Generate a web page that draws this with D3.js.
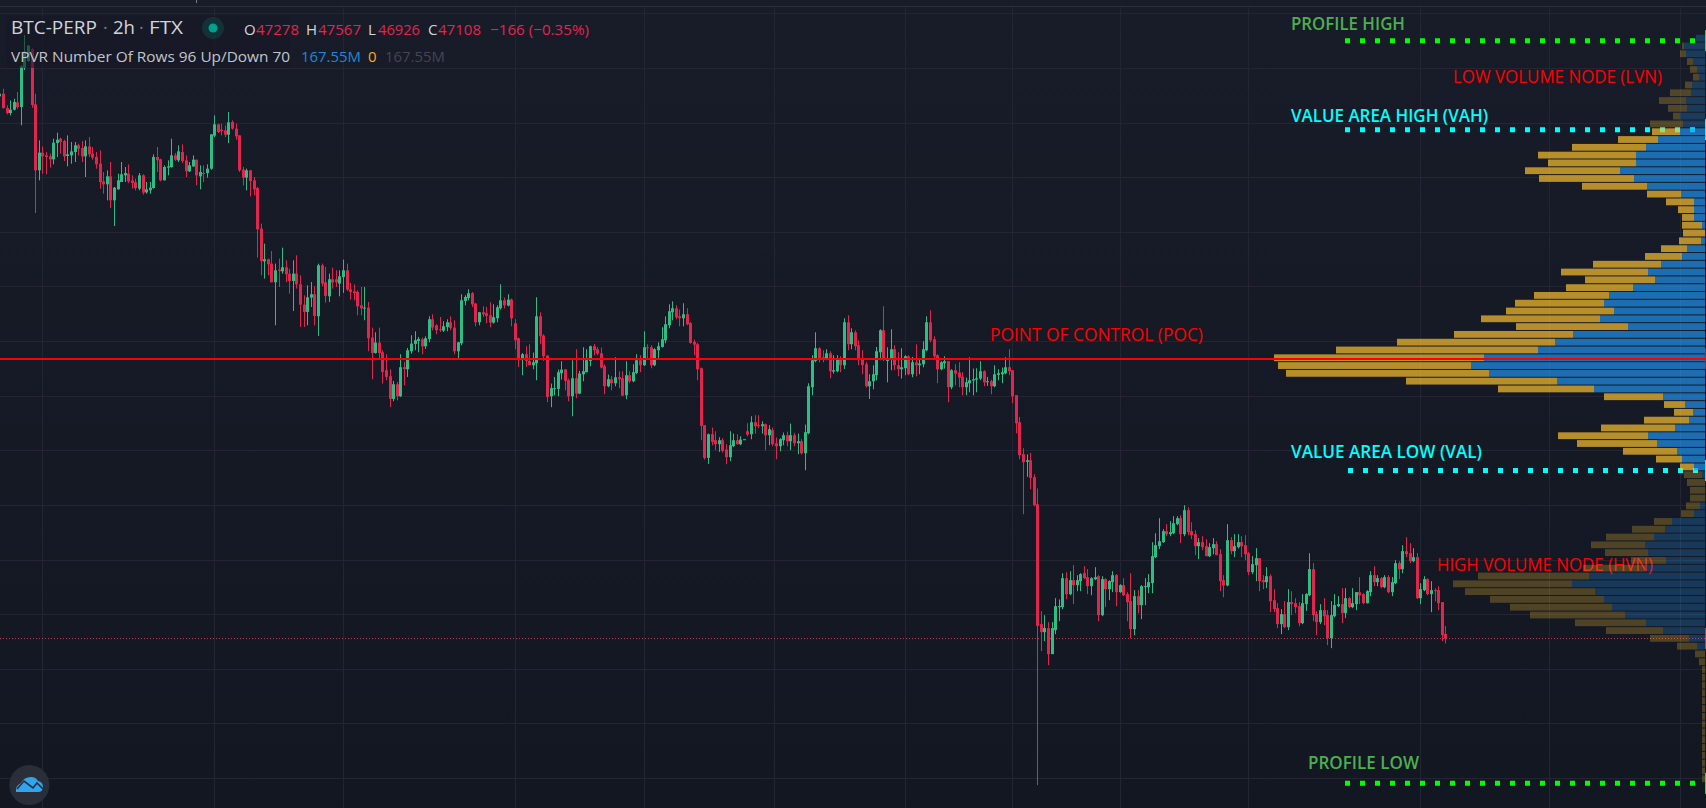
<!DOCTYPE html>
<html>
<head>
<meta charset="utf-8">
<script src="https://cdn.jsdelivr.net/npm/d3@7"></script>
<style>
  html, body { margin: 0; padding: 0; background: #131722; overflow: hidden; }
  text { font-family: "Open Sans", "Noto Sans", sans-serif; }
</style>
</head>
<body>
<div id="chart"></div>
<script>
// candles are [open, high, low, close], 2h bars
const candlesNov = [
  [66958,67117,66910,67056],[67056,67239,66507,66531],[66531,66629,66300,66348],[66348,66812,66263,66470],[66470,66873,66446,66751],
  [66739,67117,66507,66568],[66568,68093,65897,68056],[68008,69204,67923,68594],[68252,68838,68228,68814],[68692,68716,66544,66642],
  [66666,67056,62688,64250],[64250,65348,63884,64897],[64897,65128,64128,64762],[64799,64921,64104,64738],[64762,64860,64348,64653],
  [64653,65409,64470,65263],[65250,65629,64738,65372],[65409,65446,64860,65287],[65324,65372,64592,64762],[64775,65531,64396,64836],
  [64799,65287,64494,64945],[64921,65287,64555,65165],[65165,65226,64799,65043],[65067,65324,64555,64762],[64762,65348,64006,65128],
  [65128,65470,64738,64836],[64860,65104,64640,64714],[64738,64921,64311,64470],[64494,64982,63579,63823],[63847,64189,63396,63738],
  [63738,64250,63152,64030],[64030,64555,62871,63152],[63152,63640,62213,63616],[63555,64128,63542,63884],[63823,64555,63823,64104],
  [64067,64372,63823,64152],[64128,64470,63786,63847],[63884,64067,63579,63786],[63811,63945,63518,63603],[63579,64152,63518,64067],
  [64067,64104,63359,63433],[63445,63823,63396,63555],[63518,63823,63396,63616],[63603,64836,63579,64738],[64738,65104,64189,64616],
  [64653,64677,63847,63884],[63884,64433,63884,64372],[64348,64616,64067,64396],[64372,65409,64348,64799],[64799,64884,64592,64640]
];
const candlesNovB = [
  [64616,65165,64555,64945],[64921,65202,64518,64592],[64616,64799,64006,64214],[64214,64555,64189,64433],[64396,64799,64372,64640],
  [64640,64640,63701,64067],[64030,64433,63555,64189],[64152,64433,63823,64128],[64152,64470,63982,64311],[64311,65568,64274,65568],
  [65519,66263,65470,65934],[65934,65958,65616,65653],[65738,65958,65531,65690],[65714,65897,65470,65555],[65555,66385,65250,66007],
  [66019,66080,65738,65775],[65775,65958,65372,65494],[65531,65531,64189,64250],[64274,64372,63701,63982],[63982,64311,63518,64250],
  [64250,64250,63298,63860],[63884,64006,63335,63555],[63603,63640,61054,62091],[62115,62298,60407,60932],[60919,61566,60285,60993],
  [60993,61017,60407,60810],[60834,61298,60151,60151],[60151,60834,58577,60590],[60614,61017,59980,60566],[60553,61420,60468,60700],
  [60700,60956,60163,60444],[60468,60651,59736,60200],[60200,60956,59102,60468],[60468,61139,59919,60078],[60078,60407,58516,59333],
  [59333,59675,58516,59065],[59065,60041,58577,59602],[59590,60163,59248,59712],[59712,60004,58577,58919],[58906,60834,58187,60773],
  [60773,60834,60004,60102],[60151,60712,59407,59650],[59638,60468,59431,60261],[60261,60688,59919,60139],[60261,60590,59980,60151],
  [60102,60590,59638,60370],[60346,60980,59760,60590],[60590,60834,59834,59882]
];
const candlesRange = [
  [59895,60126,59516,59797],[59821,60078,59492,59760],[59797,59858,58943,59272],[59309,59980,58943,59199],[59211,59980,58760,59223],
  [59224,59431,57625,58101],[58126,58492,56601,57564],[57564,58321,57540,57943],[57943,58492,57357,57564],[57589,57662,56442,56869],
  [56930,57516,56564,56686],[56710,56967,55588,55881],[55881,56540,55795,56418],[56418,56503,55832,55978],[55978,57516,55954,57040],
  [57040,57235,56381,56979],[56967,57747,56686,57662],[57625,58211,57540,57906],[57894,58357,57662,58028],[58004,58150,57589,58077],
  [58065,58126,57516,57808],[57808,58174,57711,58101],[58077,58906,57955,58797],[58797,58980,58394,58492],[58577,58614,58248,58394],
  [58431,58882,58333,58406],[58382,58723,58333,58540],[58516,58797,58357,58687],[58687,58906,58394,58479],[58492,58760,57516,57625],
  [57625,57967,57357,57955],[57918,59712,57845,59492],[59468,59675,59309,59614],[59577,59894,59492,59748],[59748,59797,59248,59345],
  [59370,59394,58540,58687],[58687,59065,58577,59053],[59053,59272,58882,58980],[59016,59248,58662,58919],[58943,59419,58504,58675],
  [58675,59346,58638,58870],[58833,59309,58687,59236],[59199,60078,59150,59492],[59492,59590,59187,59309],[59297,59712,59272,59516],
  [59516,59553,58540,58833],[58650,58797,57699,58028]
];
const candlesRangeB = [
  [58101,58126,57052,57357],[57357,57564,56747,57516],[57516,57808,57052,57272],[57272,57882,57113,57113],[57113,57577,56967,57223],
  [57186,59602,56564,58906],[58906,59053,57882,58174],[58199,58248,57272,57442],[57467,57479,55759,55954],[55978,56442,55576,56271],
  [56247,56686,56015,56271],[56247,56954,55978,56857],[56820,57259,56588,56954],[56967,56967,56198,56540],[56564,56625,55795,55978],
  [55978,57296,55246,56637],[56637,57699,55905,56076],[56076,56906,56052,56808],[56784,57772,56527,56893],[56857,57699,56857,57296],
  [57272,57833,57076,57808],[57808,57894,57479,57662],[57699,57784,57479,57540],[57552,57760,56991,57028],[57076,57150,56052,56344],
  [56344,56771,56308,56601],[56601,56723,56198,56454],[56454,57406,56344,56674],[56674,56893,56271,56601],[56637,56893,55978,56003],
  [56015,57259,55869,56747],[56747,56893,56454,56527],[56527,57150,56491,56857],[56832,57516,56784,57296],[57296,57479,56857,57113],
  [57113,58357,57089,57772],[57772,57882,57333,57735],[57772,57845,57003,57113],[57113,57735,57076,57699],[57662,57955,57357,57808],
  [57784,58504,57760,58065],[58028,58906,57918,58614],[58577,59346,58467,59089],[59053,59455,58760,59199],[59199,59309,58797,58870],
  [58906,59150,58540,58833],[58833,59382,58540,58980],[58980,59199,58577,58614]
];
const candlesDec = [
  [58662,58687,57906,57930],[57967,58052,57479,57869],[57882,57930,56564,56967],[57003,57028,54368,54893],[54917,54917,53660,53722],
  [53722,54612,53502,54588],[54588,54832,54185,54307],[54368,54697,54002,54222],[54222,54478,53941,54368],[54368,54441,53917,53978],
  [54026,54222,53490,53746],[53746,54697,53599,54185],[54149,54612,54112,54368],[54368,54588,54209,54222],[54222,54514,54185,54392],
  [54380,54405,54380,54405],[54697,54990,54514,54576],[54588,55246,54405,55027],[55027,55283,54612,54880],[54917,55283,54807,54880],
  [54880,55063,54612,54954],[54954,54978,54002,54551],[54551,54917,54185,54771],[54734,54832,54149,54222],[54258,54466,53673,54149],
  [54149,54441,53965,54405],[54368,54649,54185,54551],[54551,54685,54149,54331],[54331,54978,54002,54551],[54551,54636,54149,54258],
  [54258,54612,53856,54331],[54331,54405,53843,53892],[53892,54941,53270,54661],[54624,56454,54588,56344],[56308,57479,56015,57296],
  [57272,58321,57223,57735],[57735,57772,57223,57357],[57406,57662,57223,57333],[57369,57699,57296,57552],[57552,57625,56637,56893],
  [56881,57479,56808,56930],[56893,57479,56857,57333],[57333,57442,56857,57113],[57113,58833,56979,58687],[58687,58943,57662,57882],
  [57882,58467,57699,58321],[58321,58394,57662,57808]
];
const candlesDecB = [
  [57845,58028,57113,57333],[57333,57662,56784,57113],[57150,57235,56296,56344],[56344,56784,55881,56527],[56527,57113,56234,56784],
  [56747,57784,56564,57625],[57589,58430,57296,58394],[58394,59272,57259,57333],[57272,57772,56491,57369],[57320,58430,56930,57699],
  [57699,57845,56930,57113],[57113,57589,56710,56967],[56967,57735,56625,57040],[57003,57479,56747,57442],[57442,57479,56747,56784],
  [56784,57418,56674,57223],[57223,57882,56710,57113],[57113,57333,56784,57174],[57150,57991,57040,57699],[57662,58906,57625,58687],
  [58687,59126,57955,58028],[58065,58174,57333,57442],[57479,57516,56454,56967],[56967,57260,56930,57223],[57186,57442,56991,57260],
  [57260,57260,55759,56308],[56308,56967,56234,56930],[56930,57150,56381,56808],[56845,57223,56308,56662],[56698,56857,56015,56308],
  [56308,56662,56015,56491],[56454,57406,56125,56564],[56552,56991,56015,56601],[56588,57003,56125,56637],[56625,57260,56564,56893],
  [56893,56930,56344,56491],[56491,56686,56357,56527],[56527,56588,56052,56344],[56344,57113,56308,56784],[56759,56967,56564,56820],
  [56784,57028,56454,56857],[56820,57406,56784,57040],[57040,57699,56747,56893],[56930,56930,55722,55978],[56015,56015,54624,54990],
  [55027,55222,53673,53819]
];
const candlesCrash = [
  [53856,54075,51660,53563],[53575,53856,53026,53636],[53636,53904,52575,52989],[53014,53124,51952,51989],
  [52026,52599,41741,47573],[47634,48109,46645,47341],[47341,47963,47011,47487],[47487,47707,46133,46536],[46536,47707,46536,47487],
  [47414,48585,47268,48292],[48256,48536,47743,48292],[48256,49500,48183,49317],[49317,49537,48549,48732],[48732,49573,48695,49244],
  [49244,49793,48366,49061],[49061,49427,48841,49244],[49207,49500,48841,49464],[49500,49756,49281,49317],[49354,49647,48732,49024],
  [49024,49354,48695,49317],[49281,49720,49244,49354],[49390,49427,47743,47963],[47963,49390,47926,49281],[49281,49317,48256,48915],
  [48915,49244,48512,49207],[49171,49573,48805,49427],[49427,49464,48292,48805],[48805,49098,48780,49061],[49061,49317,48658,48695],
  [48732,48805,47743,48439],[48475,49500,47121,47451],[47451,48878,47231,48658],[48658,48878,48036,48329],[48329,49061,47817,49024],
  [48988,49317,48329,49024],[48988,49464,48768,49171],[49134,50635,48768,50122],[50086,50964,50049,50525],[50488,51513,50379,50671],
  [50635,51111,50610,51037],[51037,51294,50854,50928],[50928,51403,50854,51001],[50964,51586,50928,51330],[51294,51586,51257,51513],
  [51513,51623,50598,50928],[50928,51989,50854,51806],[51806,51916,50891,51001],[51037,51367,50745,50891],[50928,51074,50159,50488],
  [50488,50781,50013,50635],[50635,50854,50342,50452],[50488,50745,50122,50122],[50122,50598,50086,50452],[50415,50781,50196,50562]
];
const candlesJan = [
  [50562,50671,50159,50159],[50196,50379,48841,49207],[49244,49427,48622,49049],[49049,51294,49024,50708],[50708,50818,50196,50305],
  [50305,50928,50086,50488],[50452,50928,50403,50635],[50635,50854,50086,50488],[50525,50891,49976,50196],[50232,50281,49427,49537],
  [49537,50122,49464,49830],[49793,50415,49207,50049],[50049,50049,48841,49207],[49244,49427,48915,49171],[49171,49720,48951,49390],
  [49390,49464,48073,48475],[48512,48915,48073,48183],[48219,48402,47487,47634],[47634,48183,47268,48000],[48000,48475,47487,47524],
  [47524,48915,47414,48439],[48439,48841,47963,48366],[48402,48585,48036,48256],[48292,48439,47560,47670],[47670,48732,47634,48402],
  [48366,48768,48122,48732],[48695,50232,48658,49647],[49647,49866,47743,47963],[48000,48110,47231,47707],[47707,48366,47634,48146],
  [48146,48585,47597,47926],[47963,48146,46865,47121],[47121,48475,46755,47963],[47926,48732,47890,48329],[48292,48658,48256,48366],
  [48366,48951,47670,48036],[48036,48951,47853,48585],[48585,48622,48219,48256],[48256,48951,48219,48402],[48366,48805,48146,48805],
  [48805,49354,48366,48695],[48732,48768,48366,48402],[48402,48878,48390,48841],[48805,49573,48658,49427],[49427,49756,49024,49171],
  [49171,49427,49024,49317],[49317,49354,48951,48988],[48988,49427,48951,49354],[49354,49427,48768,48805],[48805,49354,48658,49171],
  [49134,49976,49098,49866],[49866,49939,49281,49647],[49647,50525,49500,50305],[50305,50818,50086,50196],[50232,50598,49866,49939],
  [49939,50415,49903,50086],[50086,50232,48549,48585],[48585,49134,48366,48915],[48878,49390,48841,49281],[49281,49317,48695,48732],
  [48732,49207,48073,48878],[48878,48951,48475,48841],[48878,49024,48146,48402],[48439,48439,47012,47231],[47278,47567,46926,47108]
];

// volume profile rows, top row first, in millions
const upVolume = [
  .18,.42,.38,.24,.16,.12,.26,.28,.38,.36,.50,.44,.50,.94,1.18,1.38,1.38,1.70,1.42,1.16,.48,.22,.22,.22,
  .06,0,.08,.36,.46,.88,1.14,1.00,1.44,1.92,2.02,1.82,2.10,1.54,2.64,3.00,3.34,4.42,4.68,4.32,2.96,2.22,.84,.40,
  .24,.32,.60,1.14,.96,.56,.46,.22,.06,0,0,0,.10,.22,.66,.80,1.02,1.20,1.14,.78,1.20,2.32,2.66,2.20,
  2.02,1.86,1.60,1.18,.84,.32,.16,0,0,0,0,0,0,0,0,0,0,0,0,0,0,0,0,0
];
const downVolume = [
  0,.04,.12,.12,.14,.12,.14,.42,.54,.38,.14,.66,.56,.80,1.48,1.96,1.76,1.90,1.90,1.30,.68,.56,.32,.24,
  .40,.44,.44,.52,.74,1.36,1.74,1.40,1.34,1.50,1.78,2.16,2.38,2.24,2.38,3.16,4.04,4.20,3.86,4.06,3.02,1.92,1.18,.42,
  .38,.90,1.48,1.80,1.60,1.08,.52,.28,.36,.36,.30,.30,.28,.26,.36,.66,.96,1.08,.86,.70,1.24,2.22,2.38,2.60,
  2.28,2.04,1.90,1.42,1.14,.78,.40,.20,.12,.06,.06,.06,.06,.06,.06,.06,.06,.06,.06,.06,.06,.06,.06,.06
];
const valueAreaRows = [12, 55];
const profileTop = 69213;
const rowSize = 285.4;

const gridPrices = [42000,44000,46000,48000,50000,52000,54000,56000,58000,60000,62000,64000,66000,68000,70000];
const gridBars = [12,60,96,144,180,216.5,253,283,313,349,397,433,469.5];

const pocPrice = 57344;
const lastPrice = 47108;
const levels = [
  { name: 'high', price: 68997, color: '#00ff00' },
  { name: 'vah', price: 65740, color: '#00ffff' },
  { name: 'val', price: 53259, color: '#00ffff' },
  { name: 'low', price: 41804, color: '#00ff00' }
];

const width = 1706, height = 808;
const candles = [].concat(candlesNov, candlesNovB, candlesRange, candlesRangeB, candlesDec, candlesDecB, candlesCrash, candlesJan);

const x = d3.scaleLinear().domain([0, 404]).range([-0.6, 1445.3]);
const y = d3.scaleLinear().domain([42000, 70000]).range([778, 13.3]);
const vol = d3.scaleLinear().domain([0, 8.62]).range([0, 431]);
const rightEdge = 1705;

const svg = d3.select('#chart').append('svg').attr('width', width).attr('height', height).style('display', 'block');

const bg = svg.append('defs').append('linearGradient').attr('id', 'bg').attr('x1', 0).attr('x2', 0).attr('y1', 0).attr('y2', 1);
bg.append('stop').attr('offset', '0%').attr('stop-color', '#181c28');
bg.append('stop').attr('offset', '100%').attr('stop-color', '#131722');
svg.append('rect').attr('width', width).attr('height', height).attr('fill', 'url(#bg)');

// grid
svg.append('g').selectAll('line').data(gridPrices).enter().append('line')
  .attr('x1', 0).attr('x2', width)
  .attr('y1', d => Math.round(y(d)) + 0.5).attr('y2', d => Math.round(y(d)) + 0.5)
  .attr('stroke', '#232632').attr('stroke-width', 1);
svg.append('g').selectAll('line').data(gridBars).enter().append('line')
  .attr('x1', d => Math.round(x(d)) + 0.5).attr('x2', d => Math.round(x(d)) + 0.5)
  .attr('y1', 6).attr('y2', height)
  .attr('stroke', '#232632').attr('stroke-width', 1);
svg.append('line').attr('x1', 0).attr('x2', width).attr('y1', 6.5).attr('y2', 6.5).attr('stroke', '#2a2e39');
svg.append('line').attr('x1', 196.5).attr('x2', 196.5).attr('y1', 0).attr('y2', 3).attr('stroke', '#787b86');

// last price
svg.append('line').attr('x1', 0).attr('x2', width)
  .attr('y1', Math.round(y(lastPrice)) + 0.5).attr('y2', Math.round(y(lastPrice)) + 0.5)
  .attr('stroke', '#e2254d').attr('stroke-width', 1).attr('stroke-dasharray', '1 2');

// candles
const green = '#2ebd85', red = '#e2254d';
const color = d => d[3] >= d[0] ? green : red;
const candle = svg.append('g').selectAll('g').data(candles).enter().append('g');
candle.append('rect')
  .attr('x', (d, i) => Math.round(x(i)))
  .attr('width', 1)
  .attr('y', d => y(d[1]))
  .attr('height', d => y(d[2]) - y(d[1]))
  .attr('fill', color);
candle.append('rect')
  .attr('x', (d, i) => Math.round(x(i)) - 1)
  .attr('width', 3)
  .attr('y', d => y(Math.max(d[0], d[3])))
  .attr('height', d => Math.max(1, Math.abs(y(d[0]) - y(d[3]))))
  .attr('fill', color);

// drawings under the profile
const label = (txt, xp, yp, len, fill, weight) => svg.append('text')
  .attr('x', xp).attr('y', yp)
  .attr('textLength', len).attr('lengthAdjust', 'spacingAndGlyphs')
  .attr('fill', fill).attr('font-size', 18).attr('font-weight', weight || 500)
  .text(txt);

label('HIGH VOLUME NODE (HVN)', 1437, 571, 216, '#ff0000');

const dots = [[1345, 1697], [1345, 1697], [1348, 1700], [1345, 1697]];
svg.append('g').selectAll('line').data(levels).enter().append('line')
  .attr('x1', (d, i) => dots[i][0]).attr('x2', (d, i) => dots[i][1])
  .attr('y1', d => y(d.price)).attr('y2', d => y(d.price))
  .attr('stroke', d => d.color).attr('stroke-width', 5).attr('stroke-dasharray', '5 10');

// volume profile
const rows = upVolume.map((u, i) => ({ up: u, down: downVolume[i], i }));
const inValue = d => d.i >= valueAreaRows[0] && d.i <= valueAreaRows[1];
const rowY = d => y(profileTop - d.i * rowSize);
const rowH = y(profileTop - rowSize) - y(profileTop) - 1;
const profile = svg.append('g').selectAll('g').data(rows).enter().append('g');
profile.append('rect')
  .attr('x', d => rightEdge - vol(d.up))
  .attr('width', d => vol(d.up))
  .attr('y', rowY).attr('height', rowH)
  .attr('fill', d => inValue(d) ? 'rgba(33,150,243,.68)' : 'rgba(33,150,243,.26)');
profile.append('rect')
  .attr('x', d => rightEdge - vol(d.up) - vol(d.down))
  .attr('width', d => vol(d.down))
  .attr('y', rowY).attr('height', rowH)
  .attr('fill', d => inValue(d) ? 'rgba(251,192,45,.7)' : 'rgba(251,192,45,.26)');

// POC line
svg.append('line').attr('x1', 0).attr('x2', rightEdge)
  .attr('y1', y(pocPrice)).attr('y2', y(pocPrice))
  .attr('stroke', '#ff0000').attr('stroke-width', 2);

// cut-off axis labels at the right edge
const edgeMarks = levels.map(d => ({ price: d.price, color: d.color }))
  .concat([{ price: pocPrice, color: '#ff0000' }, { price: lastPrice, color: red }]);
svg.append('g').selectAll('rect').data(edgeMarks).enter().append('rect')
  .attr('x', rightEdge).attr('width', 1)
  .attr('y', d => y(d.price) - 10.5).attr('height', 21)
  .attr('fill', d => d.color);

// annotations
label('PROFILE HIGH', 1291, 30, 114, '#4caf50', 600);
label('LOW VOLUME NODE (LVN)', 1453, 83, 209, '#ff0000');
label('VALUE AREA HIGH (VAH)', 1291, 122, 197, '#00ffff', 600);
label('POINT OF CONTROL (POC)', 990, 341, 213, '#ff0000');
label('VALUE AREA LOW (VAL)', 1291, 458, 191, '#00ffff', 600);
label('PROFILE LOW', 1308, 769, 111, '#4caf50', 600);

// legend
svg.append('rect').attr('x', 6).attr('y', 16).attr('width', 284).attr('height', 52).attr('fill', '#151925').attr('opacity', .6);
const legendText = (txt, xp, yp, size, fill, len) => {
  const t = svg.append('text').attr('x', xp).attr('y', yp).attr('font-size', size).attr('fill', fill).attr('font-weight', 500).text(txt);
  if (len) t.attr('textLength', len).attr('lengthAdjust', 'spacingAndGlyphs');
};
legendText('BTC-PERP', 11, 34, 18, '#d1d4dc', 86);
legendText('·', 103, 34, 18, '#787b86');
legendText('2h', 113, 34, 18, '#d1d4dc', 22);
legendText('·', 139, 34, 18, '#787b86');
legendText('FTX', 149, 34, 18, '#d1d4dc', 34);
svg.append('circle').attr('cx', 213).attr('cy', 28).attr('r', 11).attr('fill', '#00897b').attr('opacity', .22);
svg.append('circle').attr('cx', 213).attr('cy', 28).attr('r', 4.5).attr('fill', '#00a08e');

const ohlcRed = '#e2254d';
legendText('O', 244, 35, 15, '#d1d4dc');
legendText('47278', 256, 35, 15, ohlcRed, 43);
legendText('H', 306, 35, 15, '#d1d4dc');
legendText('47567', 318, 35, 15, ohlcRed, 43);
legendText('L', 368, 35, 15, '#d1d4dc');
legendText('46926', 378, 35, 15, ohlcRed, 42);
legendText('C', 428, 35, 15, '#d1d4dc');
legendText('47108', 438, 35, 15, ohlcRed, 43);
legendText('\u2212166 (\u22120.35%)', 490, 35, 15, ohlcRed, 99);

legendText('VPVR Number Of Rows 96 Up/Down 70', 11, 62, 15, '#c2c5cc', 279);
legendText('167.55M', 301, 62, 15, '#1e88d8', 60);
legendText('0', 368, 62, 15, '#f9a825');
legendText('167.55M', 385, 62, 15, '#434651', 60);

// logo
svg.append('circle').attr('cx', 29.3).attr('cy', 785).attr('r', 20).attr('fill', '#2a2e39');
svg.append('path')
  .attr('d', 'M16 792 Q15 786 21 783 Q24 777 31 777 Q36 777 38 781 Q43 782 43 787 Q43 792 38 792 Z')
  .attr('fill', '#2fa5f0');
svg.append('path')
  .attr('d', 'M17 789 L24 781 L33 788 L37 783 L43 789')
  .attr('fill', 'none').attr('stroke', '#2a2e39').attr('stroke-width', 1.6);
</script>
</body>
</html>
